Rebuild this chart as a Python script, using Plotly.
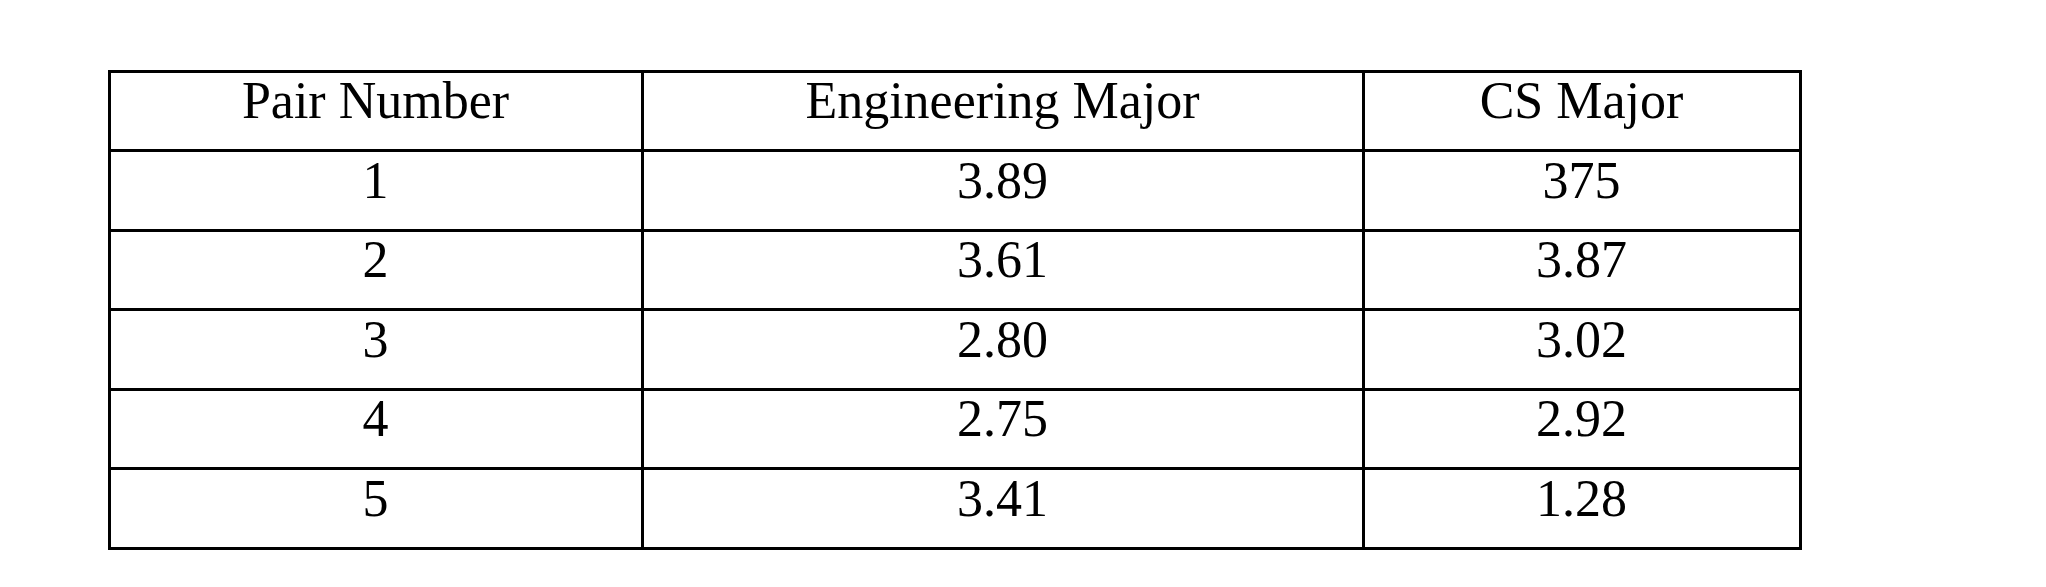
import plotly.graph_objects as go

headers = ["Pair Number", "Engineering Major", "CS Major"]
pair_number = ["1", "2", "3", "4", "5"]
engineering = ["3.89", "3.61", "2.80", "2.75", "3.41"]
cs = ["375", "3.87", "3.02", "2.92", "1.28"]

font = dict(family="Liberation Serif", size=52, color="black")
fig = go.Figure(go.Table(
    columnwidth=[533, 721, 437],
    domain=dict(x=[101/2046, 1792/2046], y=[0, 1-63/587]),
    header=dict(values=headers, height=79.5, align="center", font=font,
                fill_color="white", line=dict(color="black", width=3)),
    cells=dict(values=[pair_number, engineering, cs], height=79.5, align="center",
               font=font, fill_color="white", line=dict(color="black", width=3)),
))
fig.update_layout(width=2046, height=587, margin=dict(l=0, r=0, t=0, b=0),
                  paper_bgcolor="white")
fig.write_html("out.html")
